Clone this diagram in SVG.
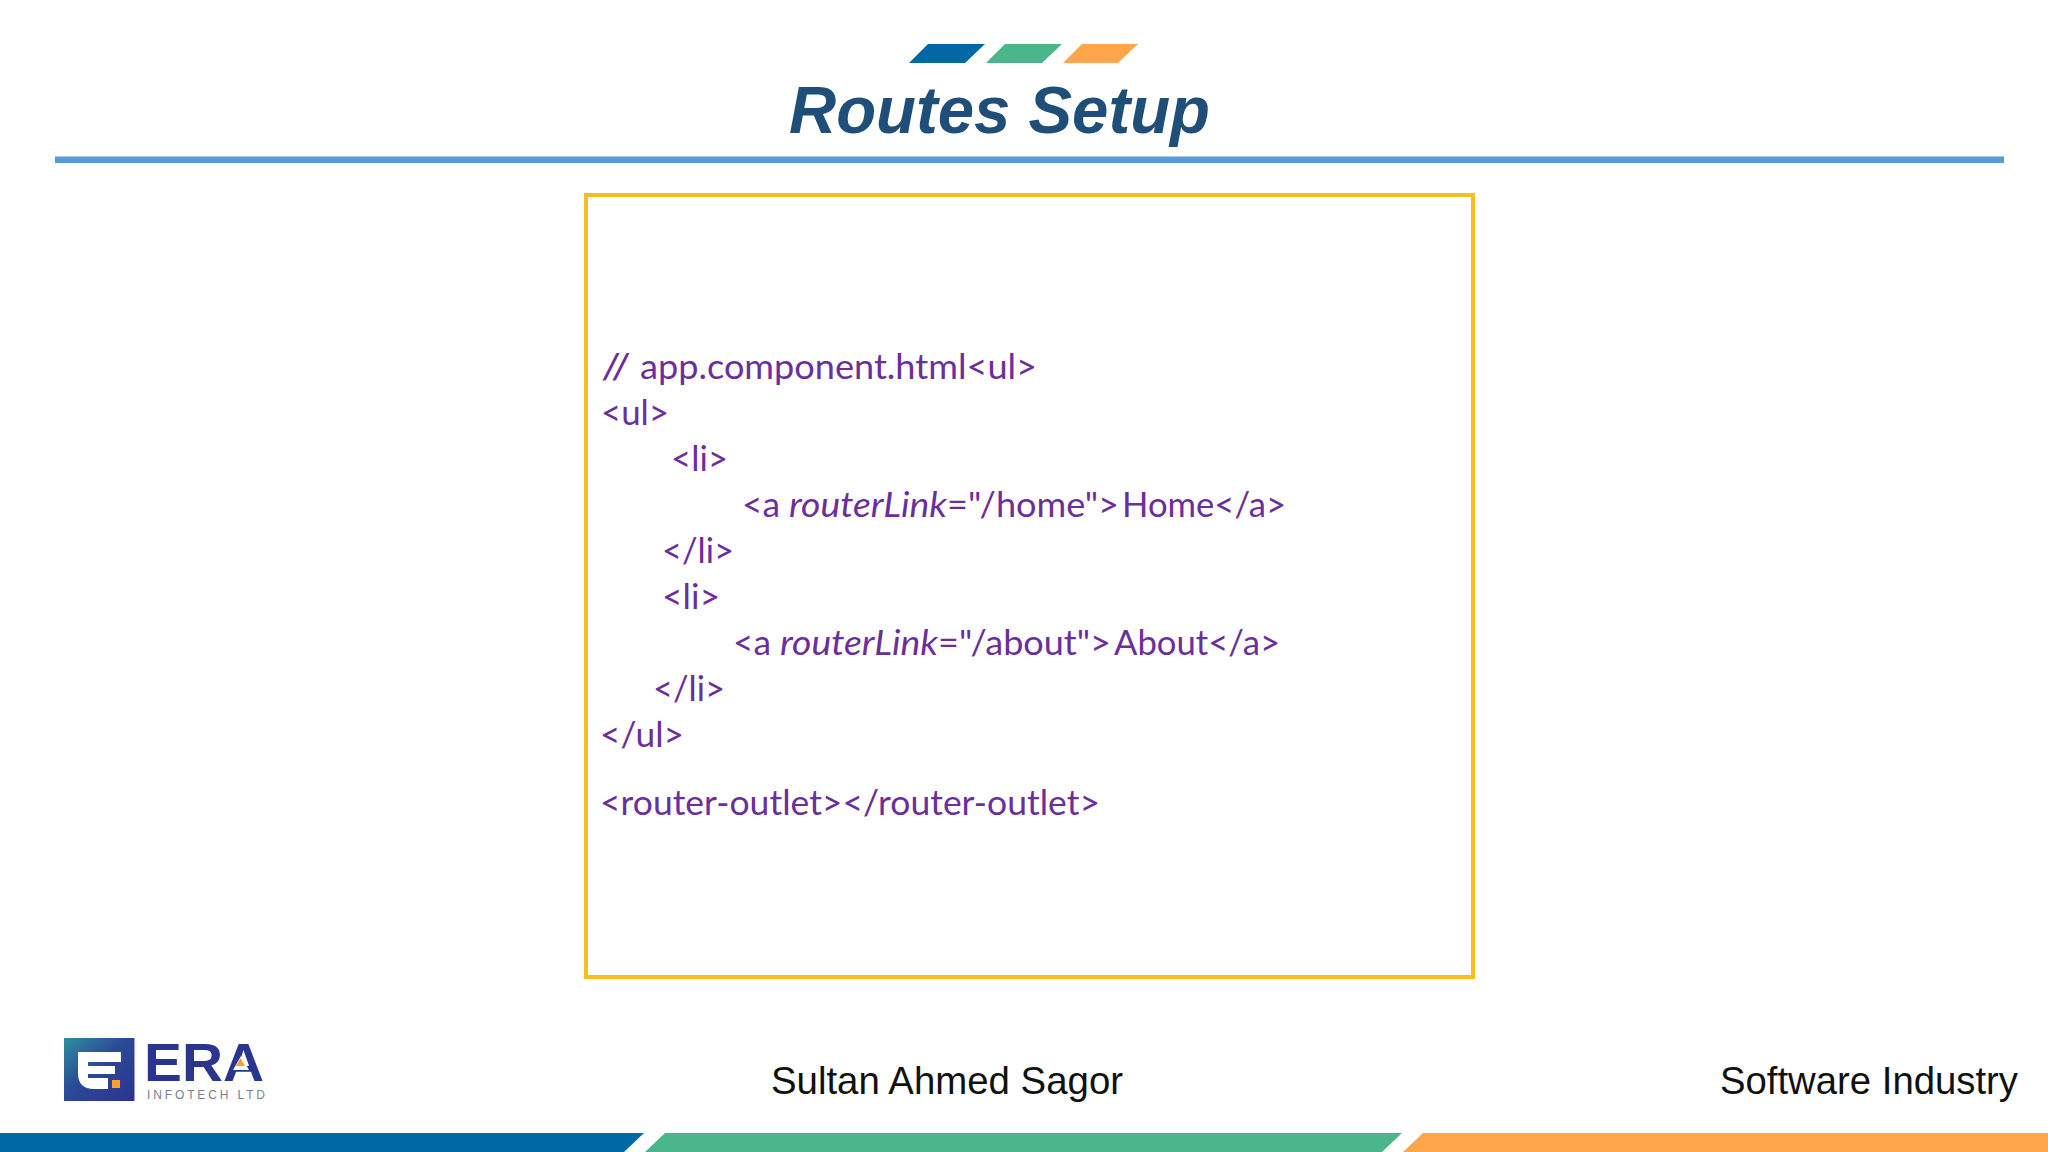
<svg xmlns="http://www.w3.org/2000/svg" width="2048" height="1152" viewBox="0 0 2048 1152">
<style>
.code{font-family:"Lato","Open Sans",sans-serif;font-size:34px;fill:#6b2f9c}
.it{font-style:italic}
.foot{font-family:"Liberation Sans",Arial,sans-serif;font-size:39.5px;fill:#111}
.blue{fill:#0068a5}.green{fill:#4bb58c}.orange{fill:#ffa64d}
</style>
<defs><linearGradient id="lg" x1="0" y1="0" x2="1" y2="1"><stop offset="0" stop-color="#2f8f9e"/><stop offset=".45" stop-color="#2b4a96"/><stop offset="1" stop-color="#2b3390"/></linearGradient></defs>
<rect width="2048" height="1152" fill="#fff"/>
<g id="title-accents">
<polygon class="blue" points="928,44 985,44 965,63 909,63"/>
<polygon class="green" points="1005,44 1062,44 1042,63 986,63"/>
<polygon class="orange" points="1082,44 1138,44 1118,63 1063,63"/>
</g>
<text id="title" x="789" y="133" font-family="'Liberation Sans',Arial,sans-serif" font-size="67" font-weight="bold" font-style="italic" fill="#1f4e79" textLength="421" lengthAdjust="spacingAndGlyphs">Routes Setup</text>
<rect id="title-rule" x="55" y="156.500" width="1949" height="6.500" fill="#5b9bd5"/>
<g id="code-box">
<rect x="586" y="195" width="887" height="782" fill="#fff" stroke="#f6bf1f" stroke-width="4"/>
<text class="code" x="601" y="379" textLength="30" lengthAdjust="spacingAndGlyphs">//</text>
<text class="code" x="640" y="379" textLength="397" lengthAdjust="spacingAndGlyphs">app.component.html&lt;ul&gt;</text>
<text class="code" x="601" y="425" textLength="68" lengthAdjust="spacingAndGlyphs">&lt;ul&gt;</text>
<text class="code" x="671" y="471" textLength="57" lengthAdjust="spacingAndGlyphs">&lt;li&gt;</text>
<text class="code" x="742" y="517" textLength="38" lengthAdjust="spacingAndGlyphs">&lt;a</text>
<text class="code it" x="789" y="517" textLength="158" lengthAdjust="spacingAndGlyphs">routerLink</text>
<text class="code" x="947" y="517" textLength="172" lengthAdjust="spacingAndGlyphs">="/home"&gt;</text>
<text class="code" x="1122" y="517" textLength="164" lengthAdjust="spacingAndGlyphs">Home&lt;/a&gt;</text>
<text class="code" x="662" y="563" textLength="72" lengthAdjust="spacingAndGlyphs">&lt;/li&gt;</text>
<text class="code" x="662" y="609" textLength="58" lengthAdjust="spacingAndGlyphs">&lt;li&gt;</text>
<text class="code" x="733" y="655" textLength="38" lengthAdjust="spacingAndGlyphs">&lt;a</text>
<text class="code it" x="780" y="655" textLength="158" lengthAdjust="spacingAndGlyphs">routerLink</text>
<text class="code" x="938" y="655" textLength="173" lengthAdjust="spacingAndGlyphs">="/about"&gt;</text>
<text class="code" x="1114" y="655" textLength="166" lengthAdjust="spacingAndGlyphs">About&lt;/a&gt;</text>
<text class="code" x="653" y="701" textLength="72" lengthAdjust="spacingAndGlyphs">&lt;/li&gt;</text>
<text class="code" x="600" y="747" textLength="84" lengthAdjust="spacingAndGlyphs">&lt;/ul&gt;</text>
<text class="code" x="600" y="815" textLength="500" lengthAdjust="spacingAndGlyphs">&lt;router-outlet&gt;&lt;/router-outlet&gt;</text>
</g>
<g id="logo">
<rect x="64" y="1038" width="70.500" height="63" fill="url(#lg)"/>
<path d="M78 1052H121V1062H88V1066H115V1074H88V1078H108V1089H94Q78 1089 78 1073Z" fill="#fff"/>
<rect x="112" y="1080" width="8" height="8" fill="#ffa030"/>
<text x="144" y="1081" font-family="'Liberation Sans',Arial,sans-serif" font-size="53" font-weight="bold" fill="#2b3590" textLength="120" lengthAdjust="spacingAndGlyphs">ERA</text>
<polygon points="241,1056 233,1070 249,1070" fill="#fff"/>
<polygon points="240.500,1058 236,1066 245,1066" fill="#f5a331"/>
<text x="147" y="1099" font-family="'Liberation Sans',Arial,sans-serif" font-size="12" fill="#7b8088" textLength="118" lengthAdjust="spacing">INFOTECH LTD</text>
</g>
<text id="footer-author" class="foot" x="771" y="1094" textLength="352" lengthAdjust="spacingAndGlyphs">Sultan Ahmed Sagor</text>
<text id="footer-topic" class="foot" x="1720" y="1094" textLength="298" lengthAdjust="spacingAndGlyphs">Software Industry</text>
<g id="footer-bar">
<polygon class="blue" points="0,1133 644,1133 624,1152 0,1152"/>
<polygon class="green" points="665,1133 1402,1133 1382,1152 645,1152"/>
<polygon class="orange" points="1423,1133 2048,1133 2048,1152 1403,1152"/>
</g>
</svg>
